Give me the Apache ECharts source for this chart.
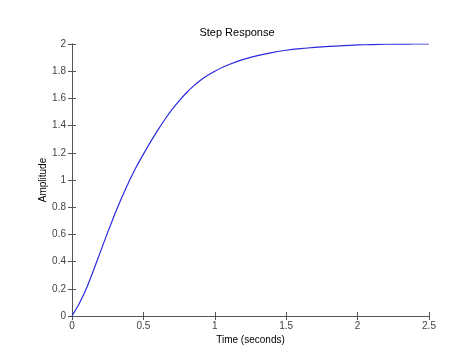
<!DOCTYPE html>
<html><head><meta charset="utf-8">
<script src="https://cdn.jsdelivr.net/npm/echarts@6/dist/echarts.min.js"></script>
<style>html,body{margin:0;padding:0;background:#fff}#c{width:474px;height:355px}</style>
</head><body><div id="c"></div>
<script>
const timeValues = [0,0.05,0.1,0.15,0.2,0.25,0.3,0.35,0.4,0.45,0.5,0.55,0.6,0.65,0.7,0.75,0.8,0.85,0.9,0.95,1.0,1.1,1.2,1.3,1.4,1.5,1.6,1.7,1.8,1.9,2.0,2.1,2.2,2.3,2.4,2.5];
const amplitudeValues = [0,0.09,0.2,0.335,0.475,0.615,0.75,0.875,0.99,1.095,1.19,1.28,1.365,1.445,1.517,1.582,1.64,1.69,1.733,1.77,1.8,1.849,1.887,1.915,1.937,1.954,1.966,1.975,1.982,1.988,1.993,1.996,1.998,1.999,2.0,2.0];
const xTicks = [0,0.5,1,1.5,2,2.5];
const yTicks = [0,0.2,0.4,0.6,0.8,1,1.2,1.4,1.6,1.8,2];
const titleText = 'Step Response';
const xName = 'Time (seconds)';
const yName = 'Amplitude';

const axisColor = '#555';
const font = 'Arial, Liberation Sans, sans-serif';
const labelStyle = {color:'#444', fontSize:10, fontFamily:font};
const chart = echarts.init(document.getElementById('c'));
const baseX = {type:'value', min:xTicks[0], max:xTicks[xTicks.length-1], interval:0.5,
  axisLine:{show:true,lineStyle:{color:axisColor}}, axisTick:{show:true,inside:true,length:4,lineStyle:{color:axisColor}},
  splitLine:{show:false}};
const baseY = {type:'value', min:yTicks[0], max:yTicks[yTicks.length-1], interval:0.2,
  axisLine:{show:true,lineStyle:{color:axisColor}}, axisTick:{show:true,inside:true,length:4,lineStyle:{color:axisColor}},
  splitLine:{show:false}};
chart.setOption({
  animation:false,
  backgroundColor:'#fff',
  title:{text:titleText,left:'center',top:27,padding:0,textStyle:{fontSize:11,fontWeight:'normal',color:'#000',fontFamily:font}},
  grid:{left:72,right:45,top:44,bottom:39,containLabel:false},
  xAxis:[
    Object.assign({}, baseX, {position:'bottom', name:xName, nameLocation:'middle', nameGap:19, nameMoveOverlap:false,
      nameTextStyle:{color:'#000',fontSize:10,fontFamily:font},
      axisLabel:Object.assign({margin:5, formatter:v=>String(v)}, labelStyle)}),
    Object.assign({}, baseX, {position:'top', axisLabel:{show:false}})
  ],
  yAxis:[
    Object.assign({}, baseY, {position:'left', name:yName, nameLocation:'middle', nameGap:24, nameMoveOverlap:false,
      nameTextStyle:{color:'#000',fontSize:10,fontFamily:font},
      axisLabel:Object.assign({margin:6, formatter:v=>String(Math.round(v*10)/10)}, labelStyle)}),
    Object.assign({}, baseY, {position:'right', axisLabel:{show:false}})
  ],
  series:[{type:'line', xAxisIndex:0, yAxisIndex:0, showSymbol:false, smooth:0.15,
    lineStyle:{color:'#2a2ae0', width:1.2},
    data: timeValues.map((t,i)=>[t, amplitudeValues[i]])}]
});
</script></body></html>
